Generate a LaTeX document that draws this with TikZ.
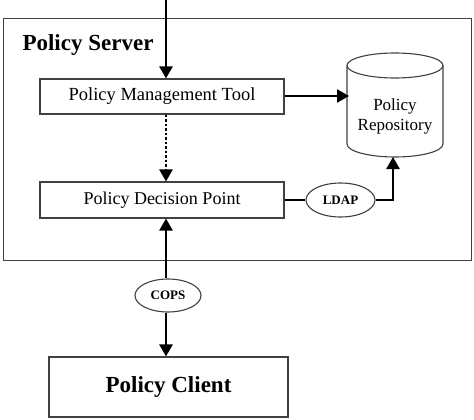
\documentclass[tikz,border=0pt]{standalone}
\usepackage{fontspec}
\setmainfont{Liberation Serif}
\usetikzlibrary{arrows.meta,shapes.geometric}
\definecolor{edge}{HTML}{404040}
\tikzset{
  boxstyle/.style={draw=edge, line width=1.1pt, inner sep=0pt},
  ovalstyle/.style={ellipse, draw=edge, line width=1.1pt, inner sep=0pt, font=\fontsize{13}{15}\selectfont\bfseries},
  flow/.style={line width=2.6pt, -{Triangle[length=12pt,width=13pt]}},
  plain/.style={line width=2.6pt},
  dottedflow/.style={line width=2.6pt, dash pattern=on 2.5pt off 2pt, -{Triangle[length=12pt,width=13pt]}},
}
\begin{document}
\begin{tikzpicture}[x=1pt,y=-1pt]
\useasboundingbox (0,0) rectangle (474,420);
% server frame
\node[boxstyle, minimum width=468pt, minimum height=242pt, anchor=north west] (server) at (3,18) {};
\node[anchor=base west, font=\fontsize{23}{26}\selectfont\bfseries] (title) at (19,51) {Policy Server};
% boxes
\node[boxstyle, minimum width=244pt, minimum height=35pt, font=\fontsize{18.5}{20}\selectfont] (pmt) at (162,96.5) {Policy Management Tool};
\node[boxstyle, minimum width=244pt, minimum height=36pt, font=\fontsize{18}{20}\selectfont] (pdp) at (162,200) {Policy Decision Point};
\node[boxstyle, minimum width=239pt, minimum height=60pt, font=\fontsize{23}{26}\selectfont\bfseries] (client) at (168.5,387) {Policy Client};
% repository cylinder
\draw[draw=edge, line width=1.1pt] (347,65.5) -- (347,144) arc[start angle=180, end angle=360, x radius=48pt, y radius=13pt] -- (443,65.5);
\draw[draw=edge, line width=1.1pt] (395,65.5) ellipse[x radius=48pt, y radius=12.5pt];
\node[align=center, font=\fontsize{17}{20}\selectfont, inner sep=0pt] (repo) at (395,116) {Policy\\Repository};
\coordinate (repoW) at (349,96);
\coordinate (repoS) at (393,157);
% ovals
\node[ovalstyle, minimum width=69pt, minimum height=34pt] (ldap) at (340.5,200) {LDAP};
\node[ovalstyle, minimum width=66pt, minimum height=33pt] (cops) at (168,295.5) {COPS};
% connectors
\coordinate (in) at (166,0);
\coordinate (bend) at (393,200);
\draw[flow] (in) -- (in |- pmt.north);
\draw[flow] (pmt.east |- repoW) -- (repoW);
\draw[dottedflow] (in |- pmt.south) -- (in |- pdp.north);
\draw[plain] (pdp.east) -- (ldap.west);
\draw[flow] (ldap.east) -- (bend) -- (repoS);
\draw[flow] (cops.north -| in) -- (in |- pdp.south);
\draw[flow] (cops.south -| in) -- (in |- client.north);
\end{tikzpicture}
\end{document}
